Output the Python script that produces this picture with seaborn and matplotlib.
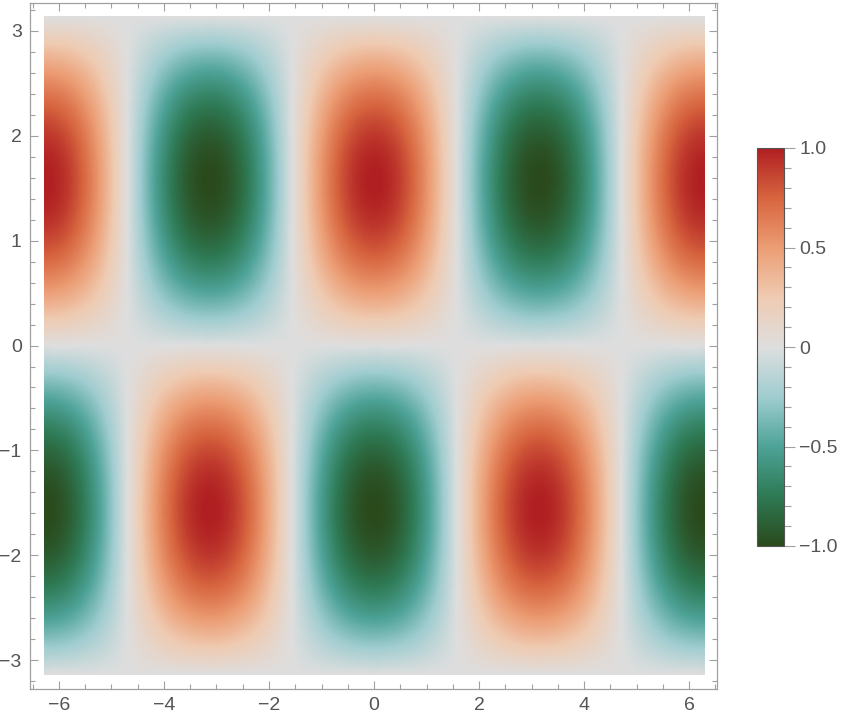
import numpy as np
import matplotlib
matplotlib.use("Agg")
import matplotlib.pyplot as plt
from matplotlib.ticker import MultipleLocator, FixedLocator
import seaborn as sns

sns.set_theme(style="white")
plt.rcParams['font.family'] = ['Liberation Sans', 'DejaVu Sans']

# Function plotted: cos(x) * sin(y) on x in [-2pi, 2pi], y in [-pi, pi]
x_range = [-2 * np.pi, 2 * np.pi]
y_range = [-np.pi, np.pi]
samples = 400
x = np.linspace(x_range[0], x_range[1], samples)
y = np.linspace(y_range[0], y_range[1], samples)
X, Y = np.meshgrid(x, y)
Z = np.cos(X) * np.sin(Y)

# colour gradient (value -> colour)
cb_values = [-1.0, -0.75, -0.5, -0.25, 0.0, 0.25, 0.5, 0.75, 1.0]
cb_colors = ["#2a4a1c", "#2e7a55", "#4ea398", "#a0cdd0", "#dedede",
             "#efcbb2", "#ec9d74", "#d7653f", "#b01f22"]
cmap = sns.blend_palette(cb_colors, as_cmap=True)

x_major = [-6, -4, -2, 0, 2, 4, 6]
y_major = [-3, -2, -1, 0, 1, 2, 3]
cb_ticks = [-1.0, -0.5, 0.0, 0.5, 1.0]
cb_labels = ["\u22121.0", "\u22120.5", "0", "0.5", "1.0"]

fig = plt.figure(figsize=(8.5, 7.22), dpi=100)
ax = fig.add_axes([30 / 850, 33 / 722, 687 / 850, 686 / 722])
im = ax.imshow(Z, origin="lower", extent=[x_range[0], x_range[1], y_range[0], y_range[1]],
               cmap=cmap, vmin=-1, vmax=1, aspect="auto", interpolation="bilinear")
ax.set_xlim(-6.55, 6.53)
ax.set_ylim(-3.275, 3.266)

grey = "#a0a0a0"
for s in ax.spines.values():
    s.set_color(grey)
    s.set_linewidth(0.9)
ax.xaxis.set_major_locator(FixedLocator(x_major))
ax.xaxis.set_minor_locator(MultipleLocator(0.5))
ax.yaxis.set_major_locator(FixedLocator(y_major))
ax.yaxis.set_minor_locator(MultipleLocator(0.2))
ax.tick_params(which="both", direction="in", top=True, right=True, bottom=True, left=True,
               color=grey, labelcolor="#555555", labelsize=14, width=0.8)
ax.tick_params(which="major", length=6, pad=6)
ax.tick_params(which="minor", length=3.5)

cax = fig.add_axes([757 / 850, (722 - 546) / 722, 27 / 850, 398 / 722])
cb = fig.colorbar(im, cax=cax)
cb.outline.set_edgecolor("#555555")
cb.outline.set_linewidth(0.8)
cb.set_ticks(cb_ticks)
cb.set_ticklabels(cb_labels)
cax.yaxis.set_minor_locator(MultipleLocator(0.1))
cax.tick_params(which="both", direction="out", color=grey, labelcolor="#555555",
                labelsize=14, width=0.8)
cax.tick_params(which="major", length=8, pad=3)
cax.tick_params(which="minor", length=5)

fig.savefig("out.png", dpi=100)
